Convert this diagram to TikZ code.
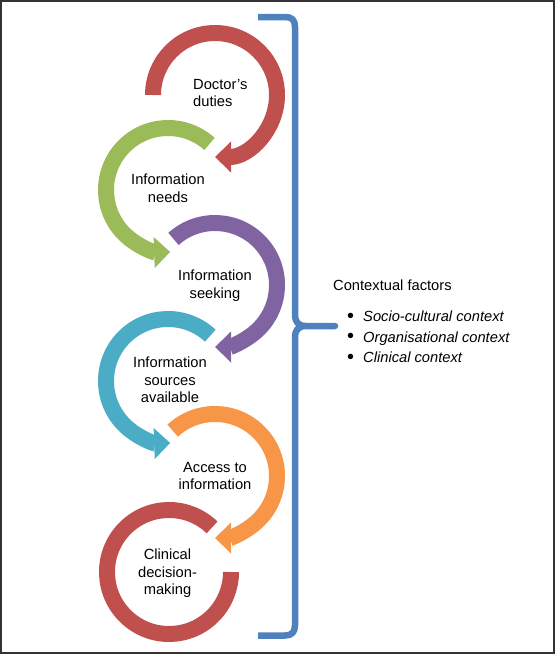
\documentclass[tikz,border=0pt]{standalone}
\usepackage{fontspec}
\setmainfont{Liberation Sans}
\usetikzlibrary{arrows.meta}
\definecolor{ringred}{HTML}{C0504D}
\definecolor{ringgreen}{HTML}{9BBB59}
\definecolor{ringpurple}{HTML}{8064A2}
\definecolor{ringteal}{HTML}{4BACC6}
\definecolor{ringorange}{HTML}{F79646}
\definecolor{braceblue}{HTML}{4F81BD}
\newcommand{\ctxbullet}{\makebox[16pt][l]{\raisebox{-0.4pt}{\scalebox{1.35}{\textbullet}}}}
\tikzset{
  ring/.style={line width=16pt},
  ringarrow/.style={ring,-{Triangle[length=16pt,width=30pt]}},
  steptext/.style={inner sep=0pt,align=center,
    font=\fontsize{14.7}{17.5}\selectfont},
}
\begin{document}
\begin{tikzpicture}[x=1pt,y=1pt]
	\useasboundingbox (0,0) rectangle (555,-654);
	\draw [black!80,line width=2pt] (1,-1) rectangle (554,-653);
	% ring centres
	\coordinate (c1) at (215,-95);
	\coordinate (c2) at (168,-190);
	\coordinate (c3) at (215,-285);
	\coordinate (c4) at (168,-381);
	\coordinate (c5) at (215,-476);
	\coordinate (c6) at (169,-572);
	% circular arrows
	\draw [ringarrow,ringred] (c1) ++(180:62pt) arc [start angle=180,end angle=-90,radius=62pt];
	\draw [ringarrow,ringgreen] (c2) ++(48:62pt) arc [start angle=48,end angle=272,radius=62pt];
	\draw [ringarrow,ringpurple] (c3) ++(132:62pt) arc [start angle=132,end angle=-90,radius=62pt];
	\draw [ringarrow,ringteal] (c4) ++(47:62pt) arc [start angle=47,end angle=272,radius=62pt];
	\draw [ringarrow,ringorange] (c5) ++(133:62pt) arc [start angle=133,end angle=-90,radius=62pt];
	\draw [ring,ringred] (c6) ++(46:62pt) arc [start angle=46,end angle=360,radius=62pt];
	% step labels
	\node [steptext,align=left,anchor=west] (duties) at (193,-93) {Doctor’s\\duties};
	\node [steptext] (needs) at (168,-188) {Information\\needs};
	\node [steptext] (seeking) at (215,-285.5) {Information\\seeking};
	\node [steptext] (sources) at (170,-380) {Information\\sources\\available};
	\node [steptext] (access) at (215,-476) {Access to\\information};
	\node [steptext] (decision) at (167.5,-573.5) {Clinical\\decision-\\making};
	% brace
	\draw [braceblue,line width=6.5pt,line join=round]
		(258,-17) -- (285,-17) .. controls (292,-17) and (295,-20) .. (295,-27)
		-- (295,-314) .. controls (295,-322) and (298,-326) .. (306,-326) -- (335,-326)
		-- (306,-326) .. controls (298,-326) and (295,-330) .. (295,-338)
		-- (295,-625) .. controls (295,-632) and (292,-635.5) .. (285,-635.5) -- (258,-635.5);
	% contextual factors
	\node [inner sep=0pt,anchor=base west,font=\fontsize{14.7}{17.5}\selectfont] (factors) at (333,-290) {Contextual factors};
	\node [inner sep=0pt,anchor=west,align=left,font=\fontsize{14.7}{20.5}\selectfont] (contexts) at (347,-337)
		{\ctxbullet\textit{Socio-cultural context}\\
		 \ctxbullet\textit{Organisational context}\\
		 \ctxbullet\textit{Clinical context}};
\end{tikzpicture}
\end{document}
